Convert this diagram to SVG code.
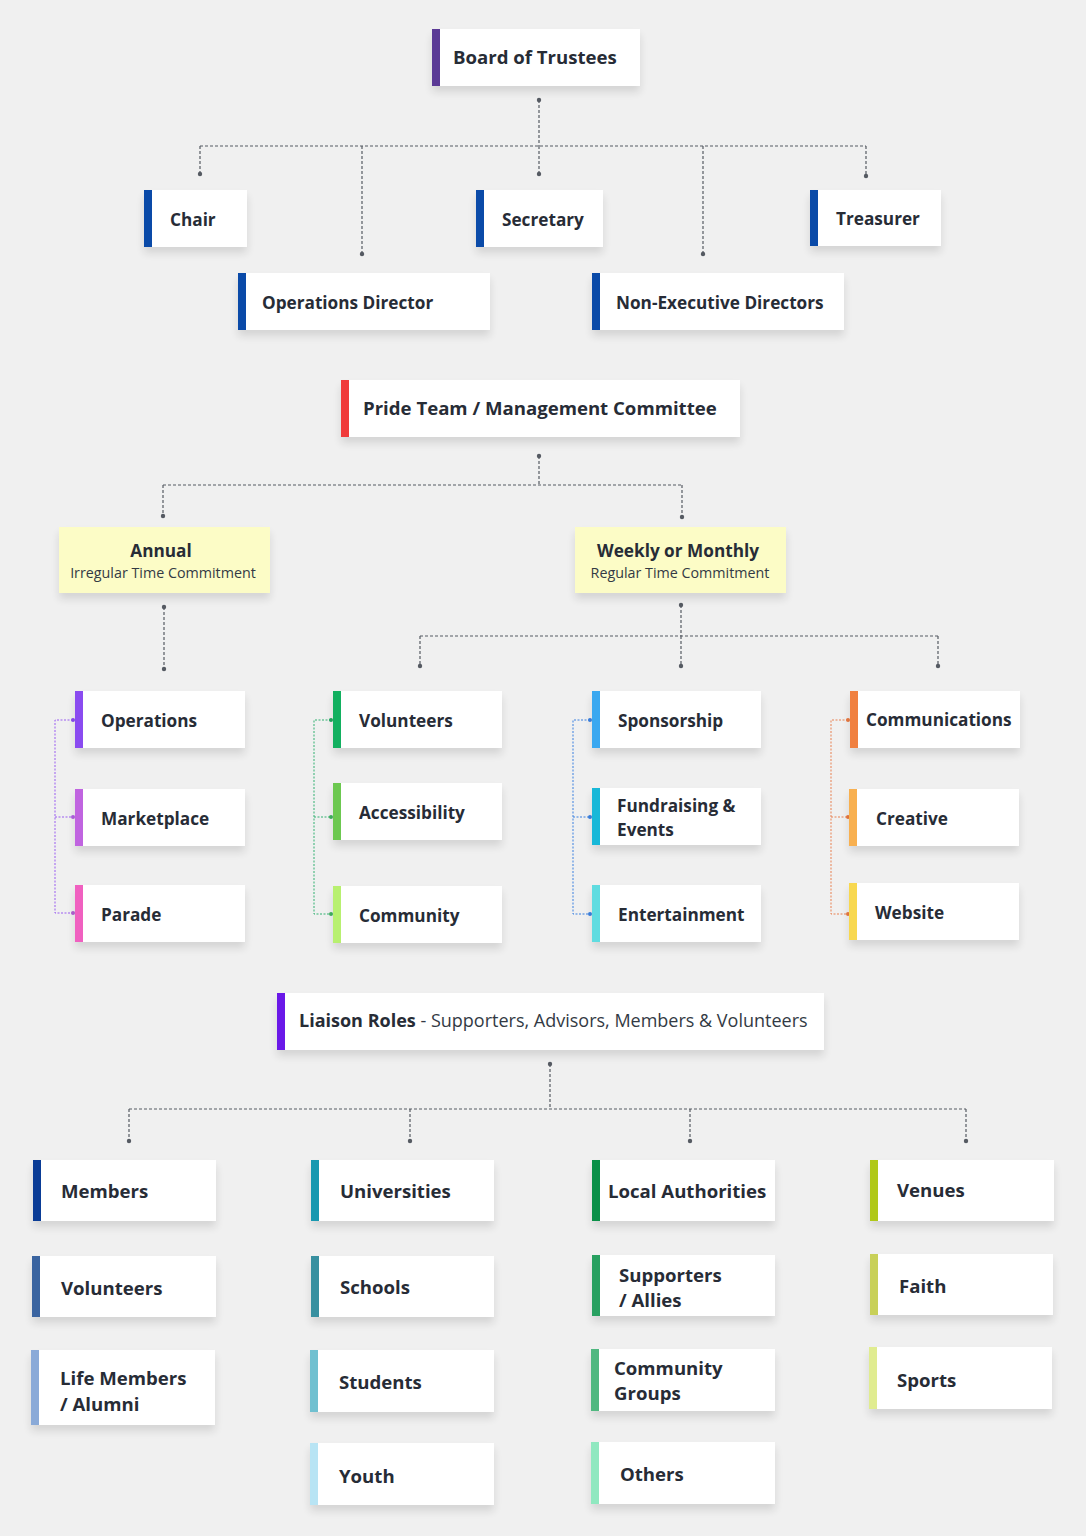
<svg xmlns="http://www.w3.org/2000/svg" width="1086" height="1536" viewBox="0 0 1086 1536">
<defs>
<filter id="sh" x="-10%" y="-20%" width="120%" height="160%">
<feGaussianBlur in="SourceAlpha" stdDeviation="4"/>
<feOffset dx="0" dy="6" result="b"/>
<feComponentTransfer><feFuncA type="linear" slope="0.12"/></feComponentTransfer>
<feMerge><feMergeNode/><feMergeNode in="SourceGraphic"/></feMerge>
</filter>
</defs>
<style>
.box{fill:#ffffff;filter:url(#sh)}
.yb{fill:#fcfcc6;filter:url(#sh)}
.t{font-family:"Open Sans","Noto Sans",sans-serif;font-weight:700;fill:#272c36;font-size:17.2px}
.tb{font-family:"Open Sans","Noto Sans",sans-serif;font-weight:700;fill:#272c36;font-size:18.6px}
.r{font-family:"Open Sans","Noto Sans",sans-serif;font-weight:400;fill:#333a44}
.c{fill:none;stroke:#555a62;stroke-width:1.2;stroke-dasharray:3 2}
.d{fill:#555a62}
</style>
<rect width="1086" height="1536" fill="#f0f0f0"/>

<g id="connectors">
<path class="c" d="M539 100V146M200 146H866M200 146V174M362 146V254M539 146V174M703 146V254M866 146V176"/>
<circle class="d" cx="539" cy="100" r="2.2"/><circle class="d" cx="200" cy="174" r="2.2"/><circle class="d" cx="362" cy="254" r="2.2"/><circle class="d" cx="539" cy="174" r="2.2"/><circle class="d" cx="703" cy="254" r="2.2"/><circle class="d" cx="866" cy="176" r="2.2"/>
<path class="c" d="M539 456V485M163 485H682M163 485V516M682 485V517"/>
<circle class="d" cx="539" cy="456" r="2.2"/><circle class="d" cx="163" cy="516" r="2.2"/><circle class="d" cx="682" cy="517" r="2.2"/>
<path class="c" d="M164 607V669"/>
<circle class="d" cx="164" cy="607" r="2.2"/><circle class="d" cx="164" cy="669" r="2.2"/>
<path class="c" d="M681 605V636M420 636H938M420 636V666M681 636V666M938 636V666"/>
<circle class="d" cx="681" cy="605" r="2.2"/><circle class="d" cx="420" cy="666" r="2.2"/><circle class="d" cx="681" cy="666" r="2.2"/><circle class="d" cx="938" cy="666" r="2.2"/>
<path d="M73 720H55V913H73M55 817H73" fill="none" stroke="#9a5cf0" stroke-width="1" stroke-dasharray="2 1.5"/>
<circle cx="73" cy="720" r="2" fill="#8a4bf0"/><circle cx="73" cy="817" r="2" fill="#b060e0"/><circle cx="73" cy="913" r="2" fill="#b060d0"/>
<path d="M331 720H314V914H331M314 817H331" fill="none" stroke="#30b070" stroke-width="1" stroke-dasharray="2 1.5"/>
<circle cx="331" cy="720" r="2" fill="#20a860"/><circle cx="331" cy="817" r="2" fill="#40b060"/><circle cx="331" cy="914" r="2" fill="#40b060"/>
<path d="M590 720H573V914H590M573 817H590" fill="none" stroke="#3a80e0" stroke-width="1" stroke-dasharray="2 1.5"/>
<circle cx="590" cy="720" r="2" fill="#3a80e0"/><circle cx="590" cy="817" r="2" fill="#3a80e0"/><circle cx="590" cy="914" r="2" fill="#3a80e0"/>
<path d="M848 720H831V914H848M831 817H848" fill="none" stroke="#e88050" stroke-width="1" stroke-dasharray="2 1.5"/>
<circle cx="848" cy="720" r="2" fill="#e87840"/><circle cx="848" cy="817" r="2" fill="#e87840"/><circle cx="848" cy="914" r="2" fill="#e87840"/>
<path class="c" d="M550 1064V1109M129 1109H966M129 1109V1141M410 1109V1141M690 1109V1141M966 1109V1141"/>
<circle class="d" cx="550" cy="1064" r="2.2"/><circle class="d" cx="129" cy="1141" r="2.2"/><circle class="d" cx="410" cy="1141" r="2.2"/><circle class="d" cx="690" cy="1141" r="2.2"/><circle class="d" cx="966" cy="1141" r="2.2"/>
</g>

<g id="board"><rect class="box" x="432" y="29" width="208" height="57"/><rect x="432" y="29" width="8" height="57" fill="#5b3a96"/><text class="tb" x="453" y="64">Board of Trustees</text></g>
<g id="chair"><rect class="box" x="144" y="190" width="103" height="57"/><rect x="144" y="190" width="8" height="57" fill="#0a4aa8"/><text class="t" x="170" y="226">Chair</text></g>
<g id="secretary"><rect class="box" x="476" y="190" width="127" height="57"/><rect x="476" y="190" width="8" height="57" fill="#0a4aa8"/><text class="t" x="502" y="226">Secretary</text></g>
<g id="treasurer"><rect class="box" x="810" y="190" width="131" height="56"/><rect x="810" y="190" width="8" height="56" fill="#0a4aa8"/><text class="t" x="836" y="225">Treasurer</text></g>
<g id="opsdir"><rect class="box" x="238" y="273" width="252" height="57"/><rect x="238" y="273" width="8" height="57" fill="#0a4aa8"/><text class="t" x="262" y="309">Operations Director</text></g>
<g id="nonexec"><rect class="box" x="592" y="273" width="252" height="57"/><rect x="592" y="273" width="8" height="57" fill="#0a4aa8"/><text class="t" x="616" y="309">Non-Executive Directors</text></g>

<g id="pride"><rect class="box" x="341" y="380" width="399" height="57"/><rect x="341" y="380" width="8" height="57" fill="#f03a3a"/><text class="tb" x="363" y="415">Pride Team / Management Committee</text></g>

<g id="annual"><rect class="yb" x="59" y="527" width="211" height="66"/><text class="t" x="161" y="557" text-anchor="middle">Annual</text><text class="r" x="163" y="578" text-anchor="middle" font-size="14.3">Irregular Time Commitment</text></g>
<g id="weekly"><rect class="yb" x="575" y="527" width="211" height="66"/><text class="t" x="678" y="557" text-anchor="middle">Weekly or Monthly</text><text class="r" x="680" y="578" text-anchor="middle" font-size="14.3">Regular Time Commitment</text></g>

<g id="operations"><rect class="box" x="75" y="691" width="170" height="57"/><rect x="75" y="691" width="8" height="57" fill="#8a4bf0"/><text class="t" x="101" y="727">Operations</text></g>
<g id="marketplace"><rect class="box" x="75" y="789" width="170" height="57"/><rect x="75" y="789" width="8" height="57" fill="#c064e0"/><text class="t" x="101" y="825">Marketplace</text></g>
<g id="parade"><rect class="box" x="75" y="885" width="170" height="57"/><rect x="75" y="885" width="8" height="57" fill="#f060c0"/><text class="t" x="101" y="921">Parade</text></g>

<g id="volunteers1"><rect class="box" x="333" y="691" width="169" height="57"/><rect x="333" y="691" width="8" height="57" fill="#12b060"/><text class="t" x="359" y="727">Volunteers</text></g>
<g id="accessibility"><rect class="box" x="333" y="783" width="169" height="57"/><rect x="333" y="783" width="8" height="57" fill="#6cc850"/><text class="t" x="359" y="819">Accessibility</text></g>
<g id="community1"><rect class="box" x="333" y="886" width="169" height="57"/><rect x="333" y="886" width="8" height="57" fill="#b8f070"/><text class="t" x="359" y="922">Community</text></g>

<g id="sponsorship"><rect class="box" x="592" y="691" width="169" height="57"/><rect x="592" y="691" width="8" height="57" fill="#3aa8f0"/><text class="t" x="618" y="727">Sponsorship</text></g>
<g id="fundraising"><rect class="box" x="592" y="788" width="169" height="57"/><rect x="592" y="788" width="8" height="57" fill="#18b8d8"/><text class="t" x="617" y="812">Fundraising &amp;</text><text class="t" x="617" y="836">Events</text></g>
<g id="entertainment"><rect class="box" x="592" y="885" width="169" height="57"/><rect x="592" y="885" width="8" height="57" fill="#60dce0"/><text class="t" x="618" y="921">Entertainment</text></g>

<g id="communications"><rect class="box" x="850" y="691" width="170" height="57"/><rect x="850" y="691" width="8" height="57" fill="#f08040"/><text class="t" x="866" y="726">Communications</text></g>
<g id="creative"><rect class="box" x="849" y="789" width="170" height="57"/><rect x="849" y="789" width="8" height="57" fill="#f8b050"/><text class="t" x="876" y="825">Creative</text></g>
<g id="website"><rect class="box" x="849" y="883" width="170" height="57"/><rect x="849" y="883" width="8" height="57" fill="#f8d850"/><text class="t" x="875" y="919">Website</text></g>

<g id="liaison"><rect class="box" x="277" y="993" width="547" height="57"/><rect x="277" y="993" width="8" height="57" fill="#6a18e8"/><text class="t" x="299" y="1027" style="font-size:18px">Liaison Roles<tspan class="r" style="font-size:18px"> - Supporters, Advisors, Members &amp; Volunteers</tspan></text></g>

<g id="members"><rect class="box" x="33" y="1160" width="183" height="61"/><rect x="33" y="1160" width="8" height="61" fill="#0a3c96"/><text class="tb" x="61" y="1198">Members</text></g>
<g id="volunteers2"><rect class="box" x="32" y="1256" width="184" height="61"/><rect x="32" y="1256" width="8" height="61" fill="#3a64a0"/><text class="tb" x="61" y="1295">Volunteers</text></g>
<g id="lifemembers"><rect class="box" x="31" y="1350" width="184" height="75"/><rect x="31" y="1350" width="8" height="75" fill="#8aaad8"/><text class="tb" x="60" y="1385">Life Members</text><text class="tb" x="60" y="1411">/ Alumni</text></g>

<g id="universities"><rect class="box" x="311" y="1160" width="183" height="61"/><rect x="311" y="1160" width="8" height="61" fill="#1898b0"/><text class="tb" x="340" y="1198">Universities</text></g>
<g id="schools"><rect class="box" x="311" y="1256" width="183" height="61"/><rect x="311" y="1256" width="8" height="61" fill="#3890a0"/><text class="tb" x="340" y="1294">Schools</text></g>
<g id="students"><rect class="box" x="310" y="1350" width="184" height="62"/><rect x="310" y="1350" width="8" height="62" fill="#70c0d0"/><text class="tb" x="339" y="1389">Students</text></g>
<g id="youth"><rect class="box" x="310" y="1443" width="184" height="62"/><rect x="310" y="1443" width="8" height="62" fill="#b8e4f4"/><text class="tb" x="339" y="1483">Youth</text></g>

<g id="localauth"><rect class="box" x="592" y="1160" width="183" height="61"/><rect x="592" y="1160" width="8" height="61" fill="#0a9048"/><text class="tb" x="608" y="1198">Local Authorities</text></g>
<g id="supporters"><rect class="box" x="592" y="1255" width="183" height="61"/><rect x="592" y="1255" width="8" height="61" fill="#28a060"/><text class="tb" x="619" y="1282">Supporters</text><text class="tb" x="619" y="1307">/ Allies</text></g>
<g id="communitygroups"><rect class="box" x="591" y="1349" width="184" height="62"/><rect x="591" y="1349" width="8" height="62" fill="#50b880"/><text class="tb" x="614" y="1375">Community</text><text class="tb" x="614" y="1400">Groups</text></g>
<g id="others"><rect class="box" x="591" y="1442" width="184" height="62"/><rect x="591" y="1442" width="8" height="62" fill="#90e8c0"/><text class="tb" x="620" y="1481">Others</text></g>

<g id="venues"><rect class="box" x="870" y="1160" width="184" height="61"/><rect x="870" y="1160" width="8" height="61" fill="#b0c818"/><text class="tb" x="897" y="1197">Venues</text></g>
<g id="faith"><rect class="box" x="870" y="1254" width="183" height="61"/><rect x="870" y="1254" width="8" height="61" fill="#c8d058"/><text class="tb" x="899" y="1293">Faith</text></g>
<g id="sports"><rect class="box" x="869" y="1347" width="183" height="62"/><rect x="869" y="1347" width="8" height="62" fill="#e0ec90"/><text class="tb" x="897" y="1387">Sports</text></g>
</svg>
